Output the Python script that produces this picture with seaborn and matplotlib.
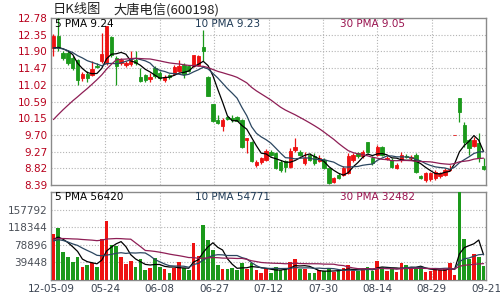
import numpy as np
import pandas as pd
import matplotlib
matplotlib.use("Agg")
import matplotlib.pyplot as plt
import seaborn as sns

# ---------------- data ----------------
date_labels = ["12-05-09", "05-24", "06-08", "06-27", "07-12", "07-30", "08-14", "08-29", "09-21"]
price_tick_labels = ["12.78", "12.35", "11.90", "11.47", "11.02", "10.59", "10.15", "9.70", "9.27", "8.82", "8.39"]
price_min, price_max = 8.39, 12.78
vol_tick_values = [39448, 78896, 118344, 157792]
vol_max = 197240

opens = [11.99, 12.30, 11.86, 11.86, 11.73, 11.68, 11.20, 11.30, 11.29, 11.52,
         11.64, 11.60, 12.27, 11.73, 11.60, 11.55, 11.57, 11.68, 11.22, 11.29,
         11.18, 11.47, 11.33, 11.16, 11.27, 11.31, 11.39, 11.55, 11.51, 11.51,
         11.55, 12.01, 11.24, 10.51, 10.10, 9.95, 10.18, 10.16, 10.18, 10.10,
         9.58, 9.53, 8.92, 8.99, 9.05, 9.27, 9.22, 9.00, 9.02, 8.87,
         9.31, 9.25, 8.96, 9.18, 9.16, 9.02, 9.05, 8.83, 8.48, 8.66,
         8.65, 8.70, 9.05, 9.22, 9.14, 9.51, 9.11, 9.18, 9.40, 9.07,
         9.05, 8.85, 9.05, 9.16, 9.09, 9.18, 8.62, 8.52, 8.55, 8.57,
         8.62, 8.65, 8.79, 9.70, 10.67, 9.97, 9.57, 9.41, 9.49, 8.89]
highs = [12.35, 12.78, 11.90, 11.90, 11.77, 11.70, 11.35, 11.38, 11.64, 11.60,
         12.38, 12.56, 12.30, 11.78, 11.72, 11.64, 11.90, 11.90, 11.47, 11.31,
         11.33, 11.51, 11.38, 11.29, 11.31, 11.55, 11.68, 11.60, 11.55, 11.82,
         11.81, 12.47, 11.26, 10.53, 10.23, 10.15, 10.20, 10.22, 10.20, 10.12,
         9.63, 9.55, 9.05, 9.13, 9.34, 9.30, 9.25, 9.05, 9.05, 9.36,
         9.63, 9.30, 9.27, 9.22, 9.22, 9.18, 9.09, 8.85, 8.60, 8.70,
         8.88, 9.22, 9.22, 9.25, 9.30, 9.53, 9.16, 9.45, 9.42, 9.14,
         9.09, 8.96, 9.27, 9.20, 9.18, 9.22, 8.66, 8.74, 8.74, 8.78,
         8.74, 8.83, 8.92, 9.70, 10.67, 10.05, 9.60, 9.66, 9.75, 9.10]
lows = [11.77, 11.90, 11.68, 11.55, 11.42, 11.02, 11.12, 11.10, 11.25, 11.47,
        11.60, 11.55, 11.75, 11.02, 11.55, 11.50, 11.52, 11.55, 11.10, 11.09,
        11.11, 11.20, 11.16, 11.11, 11.18, 11.27, 11.35, 11.20, 11.35, 11.48,
        11.53, 11.64, 10.72, 10.04, 9.99, 9.80, 10.10, 10.04, 10.06, 9.36,
        9.23, 9.00, 8.86, 8.95, 9.02, 9.15, 8.80, 8.72, 8.74, 8.85,
        9.27, 9.15, 8.92, 9.02, 8.92, 9.00, 8.80, 8.41, 8.44, 8.55,
        8.62, 8.67, 9.00, 9.10, 9.10, 9.22, 8.92, 9.14, 9.14, 9.05,
        8.83, 8.80, 9.00, 9.09, 9.05, 8.70, 8.55, 8.48, 8.50, 8.52,
        8.58, 8.62, 8.77, 9.70, 10.05, 9.40, 9.18, 9.38, 9.00, 8.79]
closes = [12.30, 11.99, 11.73, 11.60, 11.47, 11.16, 11.30, 11.20, 11.45, 11.50,
          11.83, 12.56, 11.80, 11.51, 11.68, 11.59, 11.68, 11.60, 11.13, 11.16,
          11.24, 11.25, 11.20, 11.22, 11.22, 11.48, 11.53, 11.31, 11.39, 11.80,
          11.79, 11.92, 10.74, 10.06, 10.02, 10.10, 10.12, 10.09, 10.08, 9.38,
          9.62, 9.02, 9.00, 9.11, 9.29, 9.18, 8.83, 8.78, 8.87, 9.29,
          9.40, 9.18, 9.11, 9.05, 8.96, 9.09, 8.83, 8.43, 8.57, 8.57,
          8.85, 9.16, 9.18, 9.14, 9.27, 9.27, 8.96, 9.40, 9.18, 9.11,
          8.87, 8.92, 9.18, 9.12, 9.13, 8.74, 8.58, 8.70, 8.70, 8.73,
          8.70, 8.79, 8.82, 9.70, 10.30, 9.53, 9.35, 9.57, 9.09, 8.81]
volumes = [102600, 116000, 62700, 50700, 40200, 50700, 29700, 34200, 38700, 28200,
           91300, 132600, 77800, 76200, 52300, 34900, 42400, 29700, 46200, 22100,
           27500, 48500, 29700, 25200, 14700, 27500, 40200, 27500, 22100, 83800,
           53700, 122900, 89700, 67200, 32700, 23700, 25200, 27500, 22100, 37200,
           25200, 38700, 22100, 16200, 27500, 16200, 29700, 22100, 23700, 40200,
           46200, 25200, 25200, 16200, 16200, 22100, 19900, 25200, 17600, 19900,
           27500, 32700, 19900, 19900, 23700, 29700, 19900, 42400, 29700, 19900,
           25200, 17600, 37200, 32700, 29700, 25200, 29700, 17600, 19900, 23700,
           22100, 25200, 37200, 10100, 198000, 92000, 48000, 58000, 52000, 32100]
# sessions before the visible window (needed only for the moving averages)
pre_closes = [8.02, 7.95, 8.05, 7.98, 8.01, 7.96, 8.04, 8.00, 7.97, 8.03,
              8.00, 7.99, 8.00, 11.30, 11.36, 11.28, 11.40, 11.33, 11.38, 11.35,
              12.00, 11.95, 12.05, 11.98, 11.97, 11.90, 11.92, 11.88, 11.95]
pre_volumes = [58000, 62000, 60000, 57000, 61000, 59000, 56000, 60000, 63000, 58000,
               57000, 60000, 59000, 61000, 58000, 55000, 280000, 290000, 285000, 56000,
               86000, 82000, 85000, 83000, 84000, 90000, 87000, 88000, 87400]

title_left = "日K线图"
title_right = "大唐电信(600198)"
price_ma_labels = ["5 PMA 9.24", "10 PMA 9.23", "30 PMA 9.05"]
vol_ma_labels = ["5 PMA 56420", "10 PMA 54771", "30 PMA 32482"]
ma_windows = [5, 10, 30]

# ---------------- styling ----------------
RED = "#ee1111"
GREEN = "#1b991b"
MA_COLORS = ["#000000", "#2b4660", "#8e1e55"]
TXT_COLORS = ["#000000", "#1f3a55", "#99134f"]
GRID = "#b4b4b4"
SPINE = "#8a8a8a"

sns.set_theme(style="white")
plt.rcParams["font.family"] = ["DejaVu Sans"]

n = len(closes)
idx = np.arange(n)
df = pd.DataFrame({"i": idx, "open": opens, "high": highs, "low": lows,
                   "close": closes, "volume": volumes})
full_c = pd.Series(pre_closes + closes)
full_v = pd.Series(pre_volumes + volumes)
npre = len(pre_closes)
for w in ma_windows:
    df[f"pma{w}"] = full_c.rolling(w).mean().values[npre:]
    df[f"vma{w}"] = full_v.rolling(w).mean().values[npre:]
up = df["close"] >= df["open"]
colors = np.where(up, RED, GREEN)

fig = plt.figure(figsize=(5, 3), dpi=100)
W, H = 500, 300
L, R = 51, 486
ax = fig.add_axes([L / W, 1 - 185 / H, (R - L) / W, (185 - 18) / H])
axv = fig.add_axes([L / W, 1 - 280 / H, (R - L) / W, (280 - 192) / H])

xlo, xhi = -0.5, n - 0.5
xgrid = np.linspace(xlo, xhi, len(date_labels))

# candles
ax.vlines(df["i"], df["low"], df["high"], colors=colors, linewidth=0.9, zorder=3)
ax.bar(df["i"], (df["close"] - df["open"]).abs(), bottom=np.minimum(df["open"], df["close"]),
       width=0.72, color=colors, edgecolor=colors, linewidth=0.6, zorder=4)
for w, c in zip(ma_windows, MA_COLORS):
    sns.lineplot(x=df["i"], y=df[f"pma{w}"], ax=ax, color=c, linewidth=0.9, zorder=5)

# volume
axv.bar(df["i"], df["volume"], width=0.75, color=colors, linewidth=0, zorder=3)
for w, c in zip(ma_windows, MA_COLORS):
    sns.lineplot(x=df["i"], y=df[f"vma{w}"], ax=axv, color=c, linewidth=0.9, zorder=5)

# axes cosmetics
price_ticks = np.linspace(price_max, price_min, len(price_tick_labels))
for a in (ax, axv):
    a.set_xlim(xlo, xhi)
    a.set_xticks(xgrid)
    for x in xgrid[1:-1]:
        a.axvline(x, color=GRID, linewidth=0.8, linestyle=(0, (1, 1.6)), zorder=1)
    for s in a.spines.values():
        s.set_color(SPINE)
        s.set_linewidth(1.0)
    a.set_xlabel("")
    a.set_ylabel("")
    a.tick_params(length=0)

ax.set_ylim(price_min, price_max)
ax.set_yticks(price_ticks)
ax.set_yticklabels(price_tick_labels, color="#b8001c", fontsize=7.5)
ax.set_xticklabels([])
for y in price_ticks[1:-1]:
    ax.axhline(y, color=GRID, linewidth=0.8, linestyle=(0, (1, 1.6)), zorder=1)
ax.tick_params(axis="y", pad=2.5)

axv.set_ylim(0, vol_max)
axv.set_yticks(vol_tick_values)
axv.set_yticklabels([str(v) for v in vol_tick_values], color="#4a4f57", fontsize=7.5)
for y in vol_tick_values:
    axv.axhline(y, color=GRID, linewidth=0.8, linestyle=(0, (1, 1.6)), zorder=1)
axv.set_xticklabels(date_labels, color="#3b4452", fontsize=7.5)
axv.tick_params(axis="y", pad=2.5)
axv.tick_params(axis="x", pad=3)

# MA legends
xs = [(55 - L) / (R - L), (195 - L) / (R - L), (340 - L) / (R - L)]
for x, t, c in zip(xs, price_ma_labels, TXT_COLORS):
    ax.text(x, 0.962, t, transform=ax.transAxes, color=c, fontsize=7.5, va="center", ha="left", zorder=6)
for x, t, c in zip(xs, vol_ma_labels, TXT_COLORS):
    axv.text(x, 0.94, t, transform=axv.transAxes, color=c, fontsize=7.5, va="center", ha="left", zorder=6)

# title
fig.text(53 / W, 1 - 10 / H, title_left, fontsize=9.5, color="#222222", va="center", ha="left",
         family=["Noto Sans CJK SC", "DejaVu Sans"])
fig.text(113 / W, 1 - 10 / H, title_right, fontsize=9.5, color="#222222", va="center", ha="left",
         family=["Noto Sans CJK SC", "DejaVu Sans"])

fig.savefig("out.png", dpi=100, facecolor="white")
